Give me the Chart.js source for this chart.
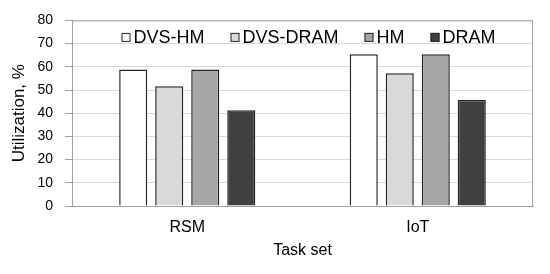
<!DOCTYPE html>
<html>
<head>
<meta charset="utf-8">
<script src="https://cdn.jsdelivr.net/npm/chart.js@4"></script>
<style>
  body { margin: 0; background: #fff; }
  #wrap { width: 550px; height: 274px; }
</style>
</head>
<body>
<div id="wrap"><canvas id="myChart"></canvas></div>
<script>
// data
var taskSets = ['RSM', 'IoT'];
var seriesNames = ['DVS-HM', 'DVS-DRAM', 'HM', 'DRAM'];
var dvsHm   = [58.8, 65.4];
var dvsDram = [51.6, 57.2];
var hm      = [58.8, 65.4];
var dram    = [41.3, 45.7];
var yTicks  = [0, 10, 20, 30, 40, 50, 60, 70, 80];

var fills = ['#ffffff', '#d9d9d9', '#a6a6a6', '#404040'];
var edge = '#262626';
var axisGray = '#a0a0a0';

// legend drawn inside the plot area, plus the box round the plot
var insideLegend = {
  id: 'insideLegend',
  afterDraw: function (chart) {
    var ctx = chart.ctx;
    var area = chart.chartArea;
    ctx.save();
    ctx.strokeStyle = axisGray;
    ctx.lineWidth = 1;
    ctx.strokeRect(area.left + 0.5, area.top + 0.5, area.right - area.left - 1, area.bottom - area.top);

    ctx.font = '18px "Liberation Sans", Arial, sans-serif';
    ctx.textBaseline = 'middle';
    var box = 9, gap = 3, spacing = 26;
    var sets = chart.data.datasets;
    var total = 0;
    sets.forEach(function (d, i) {
      total += box + gap + ctx.measureText(d.label).width;
      if (i < sets.length - 1) total += spacing;
    });
    var x = (area.left + area.right) / 2 + 6 - total / 2;
    var y = area.top + 17;
    sets.forEach(function (d) {
      ctx.fillStyle = d.backgroundColor;
      ctx.fillRect(x, y - box / 2, box, box);
      ctx.strokeStyle = edge;
      ctx.strokeRect(x + 0.5, y - box / 2 + 0.5, box - 1, box - 1);
      x += box + gap;
      ctx.fillStyle = '#000';
      ctx.fillText(d.label, x, y + 1);
      x += ctx.measureText(d.label).width + spacing;
    });
    ctx.restore();
  }
};

var values = [dvsHm, dvsDram, hm, dram];

var chart = new Chart(document.getElementById('myChart').getContext('2d'), {
  type: 'bar',
  data: {
    labels: taskSets,
    datasets: seriesNames.map(function (name, i) {
      return {
        label: name,
        data: values[i],
        backgroundColor: fills[i],
        borderColor: edge,
        borderWidth: 1.5,
        categoryPercentage: 0.625,
        barPercentage: 0.78
      };
    })
  },
  options: {
    responsive: true,
    maintainAspectRatio: false,
    animation: false,
    devicePixelRatio: 1,
    layout: { padding: { left: 0, right: 17, top: 11, bottom: 0 } },
    plugins: {
      legend: { display: false },
      tooltip: { enabled: false }
    },
    scales: {
      x: {
        grid: { display: false, drawTicks: false },
        border: { color: axisGray, width: 1 },
        ticks: {
          color: '#000',
          padding: 12,
          font: { family: '"Liberation Sans", Arial, sans-serif', size: 16 }
        },
        title: {
          display: true,
          text: 'Task set',
          color: '#000',
          padding: { top: 0, bottom: 14 },
          font: { family: '"Liberation Sans", Arial, sans-serif', size: 16 }
        },
        afterFit: function (scale) { scale.height = 68; }
      },
      y: {
        min: 0,
        max: 80,
        afterBuildTicks: function (scale) {
          scale.ticks = yTicks.map(function (v) { return { value: v }; });
        },
        grid: { color: '#d9d9d9', tickColor: axisGray, tickLength: 7 },
        border: { color: axisGray, width: 1 },
        ticks: {
          color: '#000',
          padding: 12,
          font: { family: '"Liberation Sans", Arial, sans-serif', size: 14 }
        },
        title: {
          display: true,
          text: 'Utilization, %',
          color: '#000',
          padding: { top: 9, bottom: 0 },
          font: { family: '"Liberation Sans", Arial, sans-serif', size: 17 }
        },
        afterFit: function (scale) { scale.width = 72; }
      }
    }
  },
  plugins: [insideLegend]
});
</script>
</body>
</html>
